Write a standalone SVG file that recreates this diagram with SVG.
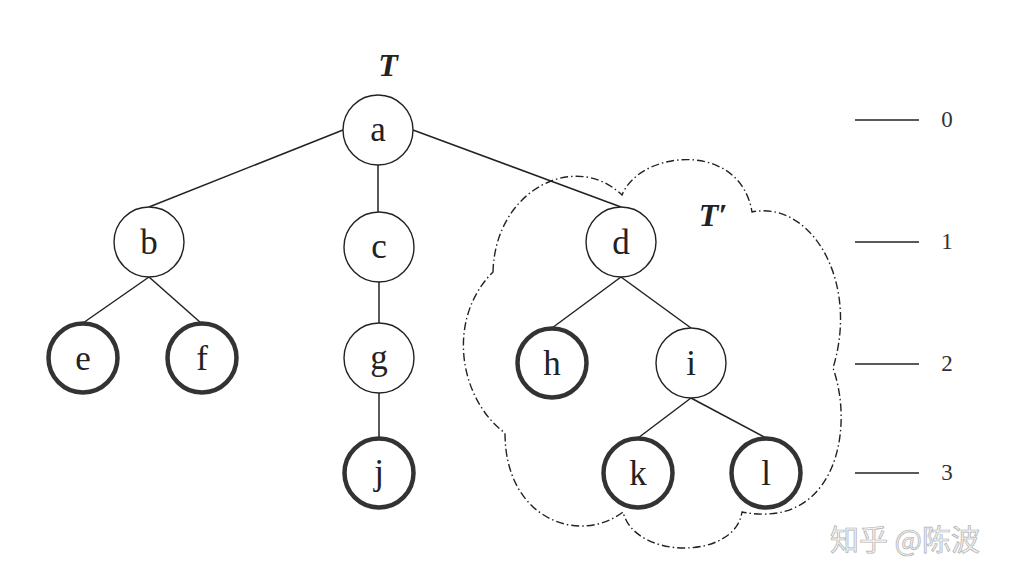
<svg xmlns="http://www.w3.org/2000/svg" width="1010" height="583" viewBox="0 0 1010 583">
<style>
.n{fill:#fff;stroke:#222;stroke-width:1.4}
.lf{fill:#fff;stroke:#333;stroke-width:4.5}
.t{font-family:"Liberation Serif",serif;font-size:35px;fill:#222;text-anchor:middle}
.e{stroke:#222;stroke-width:1.5;fill:none}
.lv{stroke:#222;stroke-width:1.6}
.d{font-family:"Liberation Serif",serif;font-size:23px;fill:#333;text-anchor:middle}
.ti{font-family:"Liberation Serif",serif;font-size:32px;font-style:italic;font-weight:bold;fill:#222;text-anchor:middle}
</style>
<rect width="1010" height="583" fill="#fff"/>
<path id="cloud" d="M493,272 C495,190 575,150 622,195 C640,150 740,140 752,212 C810,200 860,280 833,368 C855,430 835,530 742,512 C735,560 635,560 623,512 C580,545 505,520 505,433 C460,400 445,320 493,272 Z" fill="none" stroke="#222" stroke-width="1.4" stroke-dasharray="8 3 1.5 3"/>
<g id="connectors" class="e">
<line x1="343" y1="130" x2="149" y2="207"/>
<line x1="378" y1="165" x2="378" y2="212"/>
<line x1="413" y1="130" x2="621" y2="207"/>
<line x1="149" y1="277" x2="83" y2="323"/>
<line x1="149" y1="277" x2="201" y2="323"/>
<line x1="379" y1="282" x2="379" y2="323"/>
<line x1="379" y1="393" x2="379" y2="438"/>
<line x1="621" y1="277" x2="552" y2="328"/>
<line x1="621" y1="277" x2="691" y2="328"/>
<line x1="691" y1="398" x2="638" y2="438"/>
<line x1="691" y1="398" x2="766" y2="438"/>
</g>
<g id="a"><circle class="n" cx="378" cy="130" r="35"/><text class="t" x="378" y="141">a</text></g>
<g id="b"><circle class="n" cx="149" cy="242" r="35"/><text class="t" x="149" y="254">b</text></g>
<g id="c"><circle class="n" cx="379" cy="247" r="35"/><text class="t" x="379" y="258">c</text></g>
<g id="d"><circle class="n" cx="621" cy="242" r="35"/><text class="t" x="621" y="254">d</text></g>
<g id="e"><circle class="lf" cx="83" cy="358" r="34.5"/><text class="t" x="83" y="370">e</text></g>
<g id="f"><circle class="lf" cx="202" cy="358" r="34.5"/><text class="t" x="202" y="370">f</text></g>
<g id="g"><circle class="n" cx="379" cy="358" r="35"/><text class="t" x="379" y="369">g</text></g>
<g id="h"><circle class="lf" cx="552" cy="363" r="34.5"/><text class="t" x="552" y="375">h</text></g>
<g id="i"><circle class="n" cx="691" cy="363" r="35"/><text class="t" x="691" y="375">i</text></g>
<g id="j"><circle class="lf" cx="379" cy="473" r="34.5"/><text class="t" x="379" y="484">j</text></g>
<g id="k"><circle class="lf" cx="638" cy="473" r="34.5"/><text class="t" x="638" y="485">k</text></g>
<g id="l"><circle class="lf" cx="766" cy="473" r="34.5"/><text class="t" x="766" y="485">l</text></g>
<g id="labels">
<text class="ti" x="388" y="76">T</text>
<text class="ti" x="713" y="226">T′</text>
</g>
<g id="levels">
<line class="lv" x1="855" y1="120" x2="919" y2="120"/>
<line class="lv" x1="855" y1="242" x2="919" y2="242"/>
<line class="lv" x1="855" y1="364" x2="919" y2="364"/>
<line class="lv" x1="855" y1="473" x2="919" y2="473"/>
<text class="d" x="947" y="127">0</text>
<text class="d" x="947" y="249">1</text>
<text class="d" x="947" y="371">2</text>
<text class="d" x="947" y="480">3</text>
</g>
<text id="watermark" x="905" y="551" font-family="'Noto Sans CJK SC',sans-serif" font-size="29" text-anchor="middle" fill="#f0f0f0" stroke="#b0b0b0" stroke-width="0.7">知乎 @陈波</text>
</svg>
